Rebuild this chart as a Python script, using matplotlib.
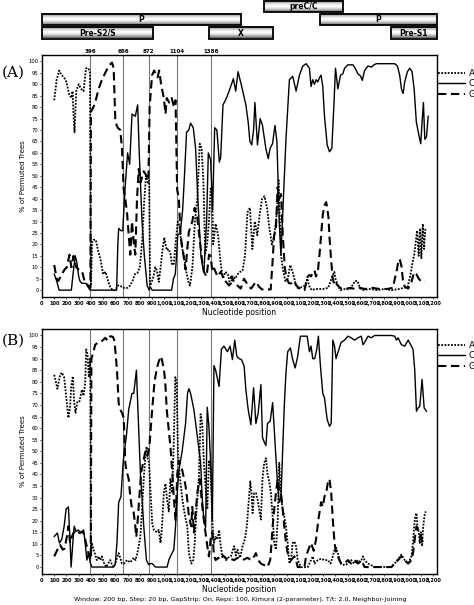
import matplotlib
matplotlib.use('Agg')
import matplotlib.pyplot as plt
import matplotlib.transforms as mtransforms
from matplotlib.patches import Rectangle
from matplotlib.lines import Line2D
from matplotlib.ticker import FuncFormatter, MultipleLocator
import numpy as np

# ---- genome map (nt start, nt end, row, label) ----
gene_names = ['preC/C', 'P', 'P', 'Pre-S2/S', 'X', 'Pre-S1']
gene_start = [1815, 0, 2274, 0, 1363, 2850]
gene_end = [2463, 1625, 3230, 911, 1888, 3230]
gene_row = [0, 1, 1, 2, 2, 2]

# breakpoints marked on the plots
breakpoints = [396, 666, 872, 1104, 1386]

# ---- panel A ----
pa_A_x = [100, 120, 140, 160, 180, 200, 220, 240, 250, 260, 266, 280, 300, 320, 340, 360, 380, 392, 400, 410,
          420, 440, 460, 480, 500, 520, 540, 560, 580, 600, 620, 640, 660, 680, 700, 720, 740, 760, 780, 800,
          820, 835, 850, 865, 876, 884, 900, 912, 926, 940, 955, 970, 982, 1000, 1020, 1035, 1050, 1064, 1078,
          1092, 1110, 1125, 1140, 1160, 1180, 1200, 1210, 1230, 1250, 1270, 1290, 1305, 1320, 1335, 1350, 1365,
          1380, 1392, 1400, 1420, 1440, 1460, 1480, 1500, 1520, 1540, 1560, 1580, 1600, 1620, 1640, 1660, 1680,
          1700, 1720, 1740, 1760, 1780, 1800, 1820, 1840, 1860, 1880, 1900, 1920, 1935, 1945, 1955, 1970, 1990,
          2010, 2030, 2050, 2070, 2090, 2110, 2130, 2150, 2170, 2190, 2210, 2230, 2260, 2300, 2340, 2370, 2390,
          2400, 2420, 2440, 2480, 2520, 2560, 2580, 2600, 2620, 2680, 2740, 2800, 2860, 2920, 2990, 3010, 3030,
          3045, 3056, 3068, 3080, 3092, 3102, 3114, 3124, 3135]
pa_A_y = [83, 92, 96, 94, 93, 91, 86, 84, 87, 74, 69, 87, 90, 88, 87, 97, 97, 95, 2, 21,
          22, 22, 17, 13, 7, 8, 4, 1, 0, 0, 2, 2, 1, 1, 1, 2, 4, 7, 7.5, 10,
          22, 38, 50, 47, 48, 2, 4, 6, 10, 8.6, 3.6, 10, 16, 23, 17.5, 18, 16, 11, 11.5,
          20, 30, 28, 20, 15, 8, 3, 2, 10, 30, 40, 64, 62, 47, 16, 20, 30,
          45, 40, 20, 29, 24, 12, 5, 8, 7, 2, 6, 5, 7, 8, 8.5, 15, 34,
          36, 18, 30, 24, 33, 40, 41, 36, 27, 20, 24, 34, 48, 30, 15, 9, 4,
          5, 11, 8, 3.6, 1, 1, 1.5, 2, 5, 1, 0, 0.5, 0.5, 0.5, 1, 5.5, 8,
          5, 2, 0, 0.5, 0.5, 4, 4, 1, 0, 0.5, 0, 0.5, 0, 0.5, 1.4, 6, 12,
          16, 21, 26, 15, 27, 14, 29, 18, 27]

pa_C_x = [100, 120, 140, 240, 258, 272, 285, 300, 310, 325, 340, 360, 380, 395, 610, 620, 627, 645, 660, 681,
          700, 717, 736, 763, 782, 796, 818, 837, 860, 876, 885, 900, 1060, 1075, 1090, 1100, 1110, 1130, 1150,
          1165, 1182, 1200, 1215, 1237, 1256, 1270, 1284, 1300, 1311, 1324, 1346, 1360, 1379, 1395, 1412, 1430,
          1450, 1461, 1480, 1500, 1516, 1543, 1565, 1584, 1603, 1631, 1650, 1667, 1686, 1700, 1715, 1730, 1741,
          1762, 1784, 1803, 1830, 1850, 1865, 1885, 1905, 1921, 1940, 1954, 1968, 1995, 2023, 2050, 2078, 2105,
          2133, 2160, 2187, 2200, 2214, 2228, 2241, 2255, 2270, 2282, 2296, 2310, 2332, 2351, 2370, 2387, 2400,
          2419, 2441, 2460, 2474, 2501, 2543, 2561, 2583, 2605, 2619, 2638, 2666, 2693, 2715, 2734, 2884, 2906,
          2925, 2939, 2953, 2966, 2988, 3007, 3026, 3043, 3061, 3081, 3097, 3108, 3119, 3130, 3144, 3158]
pa_C_y = [7, 4, 0, 0, 9, 15, 12, 6, 4, 3, 3, 3, 1, 0, 0, 20, 27, 26, 26, 46,
          60, 55, 77, 76, 81, 59, 30, 15, 2, 0, 1.5, 0, 0, 5, 7, 15, 24, 25, 35,
          50, 69, 70, 73, 71, 62, 45, 30, 15, 11, 8, 30, 60, 57, 35, 71, 70,
          56, 58, 81, 83, 85, 89, 92.5, 87, 95.5, 89.5, 85, 81, 73.5, 65, 63.5, 70, 82,
          63.5, 75, 72, 62, 57.5, 62, 64, 72, 65, 30, 15.5, 33, 66, 92, 93.5, 87, 94,
          98, 99, 97, 89, 92, 90, 92, 91, 93, 94, 89, 76, 63.5, 60.5, 62, 81, 97,
          88, 94, 94.6, 97, 98.5, 98.5, 97, 94.6, 93.6, 91.7, 96, 98, 97.5, 98.5, 99, 99, 98,
          94, 88, 86, 91, 95.5, 97, 95.5, 88, 73.5, 68, 64, 73.5, 82, 66, 67, 76]

pa_G_x = [100, 120, 134, 162, 185, 203, 225, 240, 258, 280, 300, 326, 353, 380, 396, 400, 420, 435, 463, 490,
          517, 545, 572, 586, 600, 619, 640, 654, 668, 681, 695, 709, 722, 736, 750, 763, 777, 791, 805, 832,
          854, 870, 880, 900, 917, 945, 958, 974, 996, 1010, 1020, 1040, 1060, 1080, 1092, 1105, 1119, 1133,
          1160, 1174, 1188, 1201, 1229, 1248, 1270, 1292, 1311, 1324, 1346, 1366, 1379, 1393, 1408, 1435, 1461,
          1488, 1505, 1530, 1549, 1570, 1598, 1625, 1652, 1686, 1710, 1749, 1776, 1800, 1870, 1885, 1898, 1912,
          1927, 1940, 1955, 1968, 1985, 2000, 2020, 2040, 2060, 2080, 2100, 2118, 2146, 2173, 2186, 2200, 2214,
          2228, 2241, 2255, 2269, 2282, 2296, 2310, 2324, 2332, 2343, 2351, 2365, 2378, 2392, 2405, 2419, 2446,
          2480, 2520, 2560, 2600, 2640, 2700, 2760, 2820, 2870, 2885, 2898, 2912, 2925, 2939, 2953, 2966, 2994,
          3021, 3043, 3061, 3081, 3103, 3130]
pa_G_y = [11, 5, 4, 7, 9, 10, 15.5, 10, 15, 10, 9, 8.5, 3, 2, 1, 78, 80, 82, 88, 92,
          95, 98, 99.5, 97, 73.5, 71, 70, 62, 44, 40, 34, 24, 15.5, 30, 21, 15.5, 40, 53, 47, 52,
          50, 48, 80, 94, 96, 93, 96, 90, 84, 77, 84, 82, 84, 80, 83, 44, 40, 24,
          14, 9, 18, 25.5, 30, 36, 31.5, 21, 12, 8, 6, 15.5, 15, 8, 9.5, 6, 8,
          5, 3.6, 2, 6, 3.6, 2, 0.7, 5, 2, 0.7, 3.6, 1.4, 0.3, 0.3, 12, 24, 26,
          45, 40, 42, 25, 10, 5, 3, 3, 4, 2, 1, 0, 0, 6, 6.6, 6, 7.8,
          8.6, 6, 7.8, 15.4, 24, 33, 37, 38.5, 36, 31.5, 23, 12.5, 5, 2, 3, 2, 0.7,
          0.5, 1, 0.5, 1, 0.5, 1, 0.5, 0.5, 1, 5, 7.8, 12, 13.6, 10.6, 3.6, 1.5, 0.7,
          3.6, 7.8, 7, 5, 3.6, 3.6]

# ---- panel B ----
pb_A_x = [100, 126, 148, 162, 181, 197, 216, 230, 238, 252, 263, 274, 290, 307, 326, 340, 353, 361, 372, 383,
          394, 400, 408, 421, 435, 448, 462, 476, 490, 505, 525, 540, 558, 572, 586, 600, 613, 627, 640, 654,
          673, 695, 722, 750, 765, 777, 791, 804, 818, 832, 845, 855, 865, 875, 890, 901, 915, 928, 942, 955,
          969, 982, 996, 1010, 1023, 1037, 1050, 1064, 1078, 1090, 1100, 1112, 1125, 1146, 1160, 1174, 1188,
          1201, 1221, 1237, 1248, 1264, 1283, 1297, 1310, 1324, 1340, 1352, 1365, 1379, 1393, 1406, 1420, 1435,
          1448, 1462, 1475, 1490, 1505, 1520, 1544, 1571, 1585, 1598, 1620, 1640, 1659, 1675, 1686, 1703, 1713,
          1722, 1735, 1749, 1763, 1776, 1790, 1803, 1817, 1831, 1844, 1858, 1872, 1886, 1899, 1913, 1927, 1940,
          1955, 1968, 1981, 1995, 2009, 2023, 2036, 2050, 2064, 2077, 2091, 2105, 2118, 2173, 2200, 2214, 2228,
          2255, 2282, 2310, 2337, 2360, 2378, 2392, 2405, 2419, 2433, 2446, 2474, 2501, 2529, 2543, 2556, 2570,
          2597, 2611, 2625, 2638, 2666, 2693, 2720, 2857, 2884, 2912, 2939, 2966, 2994, 3021, 3034, 3043, 3053,
          3062, 3070, 3081, 3089, 3098, 3108, 3117, 3131, 3139]
pb_A_y = [83, 77, 83, 84, 82, 74, 64.4, 69.4, 77.4, 82.4, 71, 66.6, 71.6, 71.6, 76.6, 74, 79.6, 94, 92, 82,
          90, 5, 10.4, 7.5, 5.4, 3, 4.6, 3, 4.6, 2, 0, 1.5, 3, 1, 0, 1.5, 4, 6, 4, 1.5,
          1.5, 3, 2, 4, 3, 5.4, 9, 13, 25, 38, 48, 52, 47, 45, 30, 19, 16, 15.4, 15, 16,
          10.4, 18, 32, 36, 29, 24, 38, 32, 55, 82, 80, 50, 40, 30, 25, 21, 17.6,
          6, 1.5, 3, 10, 25, 39, 66, 62, 45, 33, 25, 46, 43, 20, 10.4, 13, 12,
          16, 9, 4.6, 5, 3, 4, 4.6, 9, 5, 7.5, 4, 9, 12, 17.6, 25, 37, 32,
          23.3, 32, 32, 29, 25, 20.5, 38, 45, 47, 40, 37, 32, 22, 10.4, 7.5, 20, 45,
          30, 25, 22, 17.6, 10.4, 1.5, 3, 10.4, 11, 9, 3, 1.5, 0, 0, 3, 4.6, 1.5,
          3, 3.6, 3, 3, 1.5, 4.6, 7.5, 8.3, 6, 3, 1.5, 0.8, 1.5, 3, 2, 1.5, 3,
          2, 3, 4.6, 3, 1.5, 0.8, 0, 0, 1.5, 3.5, 5.4, 3, 1.5, 4.6, 10.4, 17.6, 22,
          23.3, 17.6, 15, 10.4, 15, 9, 17.6, 23.3, 24]

pb_C_x = [100, 126, 142, 162, 181, 197, 216, 230, 238, 252, 263, 279, 298, 317, 340, 353, 367, 380, 394, 408,
          586, 599, 613, 627, 646, 662, 673, 690, 709, 736, 750, 772, 791, 805, 818, 832, 854, 873, 887, 901,
          928, 1023, 1037, 1050, 1064, 1078, 1092, 1106, 1120, 1146, 1174, 1190, 1201, 1215, 1242, 1270, 1297,
          1310, 1324, 1338, 1351, 1365, 1379, 1393, 1406, 1420, 1448, 1467, 1488, 1516, 1538, 1557, 1576, 1593,
          1612, 1631, 1653, 1667, 1686, 1708, 1730, 1749, 1768, 1790, 1803, 1817, 1831, 1844, 1866, 1886, 1899,
          1913, 1927, 1940, 1954, 1968, 1981, 1995, 2009, 2031, 2050, 2070, 2091, 2113, 2168, 2187, 2200, 2214,
          2230, 2247, 2260, 2277, 2296, 2310, 2332, 2351, 2365, 2378, 2392, 2405, 2419, 2446, 2474, 2501, 2529,
          2556, 2583, 2611, 2625, 2638, 2666, 2693, 2720, 2857, 2884, 2898, 2912, 2939, 2966, 2994, 3015, 3034,
          3048, 3062, 3075, 3089, 3108, 3125, 3144]
pb_C_y = [13.2, 14.7, 10.4, 12, 17.6, 25, 26, 10.4, 0, 10.4, 17.6, 15.4, 16, 14.7, 16, 10.4, 3, 6, 2, 0,
          0, 1.5, 10.4, 28, 30.5, 44, 50, 56.5, 68, 75, 75, 85, 59, 40, 30, 17.6, 3, 1, 1.5, 1.5,
          0, 0, 3, 4.6, 6, 7.5, 17.6, 32, 42, 50, 62, 75, 77, 75, 68, 56.5, 45,
          30, 20, 17, 69, 60.6, 45, 20, 87, 85, 78, 94, 95.4, 93, 95.4, 89.6, 98, 91,
          90, 89.6, 86.7, 76.6, 68, 61.5, 77.4, 62, 66.6, 78.8, 56, 54, 52.5, 62, 63, 71, 59.4,
          46.3, 35, 28, 30, 50, 69.4, 84, 93, 94.6, 89.6, 86, 91, 99.7, 99.7, 93, 95.4, 90,
          90, 94, 99.7, 86.7, 75, 73, 63.7, 60.8, 62, 98, 95.4, 90, 92.5, 97, 98, 99.7, 99,
          98, 99, 99.7, 96, 97, 99.7, 99, 100, 100, 99.7, 98, 99, 96, 95.4, 98, 96, 94,
          85, 67.3, 68.7, 69.4, 81, 68.7, 67.3]

pb_G_x = [100, 126, 148, 170, 185, 203, 216, 230, 244, 257, 279, 306, 334, 353, 372, 388, 399, 404, 416, 435,
          454, 476, 498, 517, 536, 558, 580, 591, 599, 613, 627, 640, 654, 668, 673, 681, 689, 709, 722, 736,
          750, 763, 771, 783, 800, 810, 826, 845, 862, 878, 901, 920, 940, 956, 975, 990, 1000, 1010, 1020,
          1035, 1050, 1064, 1078, 1092, 1106, 1119, 1146, 1174, 1188, 1201, 1221, 1229, 1242, 1256, 1270, 1289,
          1311, 1330, 1352, 1365, 1379, 1393, 1406, 1420, 1440, 1460, 1480, 1500, 1520, 1544, 1571, 1600, 1640,
          1680, 1710, 1735, 1749, 1768, 1790, 1817, 1844, 1866, 1877, 1886, 1899, 1913, 1927, 1940, 1954, 1968,
          1981, 1995, 2009, 2023, 2036, 2064, 2077, 2091, 2146, 2159, 2178, 2200, 2222, 2241, 2260, 2282, 2296,
          2310, 2324, 2337, 2351, 2365, 2378, 2392, 2405, 2419, 2446, 2474, 2501, 2529, 2556, 2583, 2611, 2638,
          2857, 2884, 2912, 2939, 2966, 2994, 3021, 3034, 3048, 3062, 3075, 3089, 3103, 3117, 3136]
pb_G_y = [4.6, 7.5, 9.6, 7.5, 8, 13, 17.6, 10.4, 13, 14.7, 16, 14.7, 15.4, 12, 7.5, 4.6, 3, 90, 92, 96,
          96.8, 97, 98, 99, 97.8, 99.7, 99.4, 98, 94, 85, 70.8, 68, 66.6, 64.4, 58, 45, 42, 38, 30.5, 25,
          23.5, 17.6, 13, 20.5, 33.4, 40.6, 45, 50, 48, 52, 68, 80, 86, 89, 91, 87, 84, 78, 68,
          60, 52, 42, 30, 20, 40, 46, 42, 35, 29, 22, 17.6, 26, 15, 23.5, 32, 38,
          26, 17.6, 9, 4.6, 12, 15, 5, 3, 4, 3, 5, 4, 3, 3.5, 3, 4, 3,
          4, 3, 4.6, 6, 3, 1.5, 0.8, 0, 3, 10.4, 17.6, 25, 32, 38, 33.4, 32, 25,
          17.6, 10.4, 6, 4.6, 3, 4.6, 3, 0, 0, 4.6, 7.5, 10.4, 7, 12, 20.5, 28, 26,
          30.5, 32, 36.3, 38, 32, 20.5, 10.4, 6, 4.6, 1.5, 1.5, 3, 1.5, 3, 1.5, 3, 0,
          0, 1.5, 3, 4.6, 3, 1.5, 3, 6, 12, 17.6, 16, 15, 12, 10.4, 10.4]

series_labels = ['A', 'C', 'G']

W, H = 474, 605
fig = plt.figure(figsize=(W / 100, H / 100), dpi=100)
plt.rcParams['font.family'] = ['DejaVu Sans']

x_left, x_right = 42, 437
X_MAX = 3230

A_STYLE = dict(color='black', lw=1.3, linestyle=(0, (1, 0.8)))
C_STYLE = dict(color='black', lw=1.0, linestyle='-')
G_STYLE = dict(color='black', lw=1.5, linestyle=(0, (4, 2.2)))


def fig_rect(px_left, px_top, px_right, px_bottom):
    return [px_left / W, 1 - px_bottom / H, (px_right - px_left) / W, (px_bottom - px_top) / H]


# genome map
gax = fig.add_axes(fig_rect(x_left, 0, x_right, 40))
gax.axis('off')
row_top = [0.5, 13.5, 27]
row_h = 11.5
shade = 1 - 0.62 * np.abs(np.linspace(-1, 1, 40)) ** 1.6
grad = np.repeat(shade[:, None], 4, axis=1)
for name, s, e, r in zip(gene_names, gene_start, gene_end, gene_row):
    t = row_top[r]
    gax.imshow(grad, cmap='gray', vmin=0, vmax=1, aspect='auto',
               extent=(s, e, t + row_h, t), interpolation='bilinear', clip_on=False, zorder=1)
    gax.add_patch(Rectangle((s, t), e - s, row_h, fill=False, ec='black', lw=1.3, clip_on=False, zorder=2))
    gax.text((s + e) / 2, t + row_h / 2 + 0.3, name, ha='center', va='center', fontsize=5.5,
             fontweight='bold', zorder=3)
gax.set_xlim(0, X_MAX)
gax.set_ylim(40, 0)


def draw_panel(rect, a_x, a_y, c_x, c_y, g_x, g_y, show_bp_labels, leg_y):
    ax = fig.add_axes(rect)
    ax.plot(a_x, a_y, **A_STYLE, zorder=3)
    ax.plot(c_x, c_y, **C_STYLE, zorder=4)
    ax.plot(g_x, g_y, **G_STYLE, zorder=3)
    for bp in breakpoints:
        ax.axvline(bp, color='#777777', lw=0.8, zorder=2)
    if show_bp_labels:
        trans = mtransforms.blended_transform_factory(ax.transData, ax.transAxes)
        for bp in breakpoints:
            ax.text(bp, 1.005, str(bp), transform=trans, ha='center', va='bottom',
                    fontsize=4, fontweight='bold')
    ax.set_xlim(0, X_MAX)
    ax.set_ylim(-3, 102.8)
    ax.xaxis.set_major_locator(MultipleLocator(100))
    ax.xaxis.set_major_formatter(FuncFormatter(lambda v, p: '{:,}'.format(int(v))))
    ax.yaxis.set_major_locator(MultipleLocator(5))
    ax.tick_params(axis='x', labelsize=3.6, length=1.5, width=0.5, pad=1.5)
    ax.tick_params(axis='y', labelsize=3.8, length=1.5, width=0.5, pad=1)
    for lab in ax.get_xticklabels():
        lab.set_fontweight('bold')
    for sp in ax.spines.values():
        sp.set_linewidth(1.0)
    ax.set_xlabel('Nucleotide position', fontsize=5.5, labelpad=1)
    ax.set_ylabel('% of Permuted Trees', fontsize=5, labelpad=2)
    handles = [Line2D([], [], **A_STYLE), Line2D([], [], **C_STYLE), Line2D([], [], **G_STYLE)]
    fig.legend(handles, series_labels, loc='upper left', bbox_to_anchor=(438 / W, 1 - leg_y / H),
               frameon=False, fontsize=6.5, handlelength=3.0, handletextpad=0.4,
               labelspacing=0.15, borderaxespad=0, borderpad=0)
    return ax


axA = draw_panel(fig_rect(x_left, 55, x_right, 297), pa_A_x, pa_A_y, pa_C_x, pa_C_y, pa_G_x, pa_G_y,
                 True, 69)
axB = draw_panel(fig_rect(x_left, 329, x_right, 574), pb_A_x, pb_A_y, pb_C_x, pb_C_y, pb_G_x, pb_G_y,
                 False, 341)

fig.text(2 / W, 1 - 73 / H, '(A)', fontsize=11, family='DejaVu Serif', va='center', ha='left')
fig.text(2 / W, 1 - 341 / H, '(B)', fontsize=11, family='DejaVu Serif', va='center', ha='left')
fig.text(240 / W, 1 - 600 / H,
         'Window: 200 bp, Step: 20 bp, GapStrip: On, Reps: 100, Kimura (2-parameter), T/t: 2.0, Neighbor-Joining',
         fontsize=4.6, ha='center', va='center')

fig.savefig('out.png', dpi=100)
